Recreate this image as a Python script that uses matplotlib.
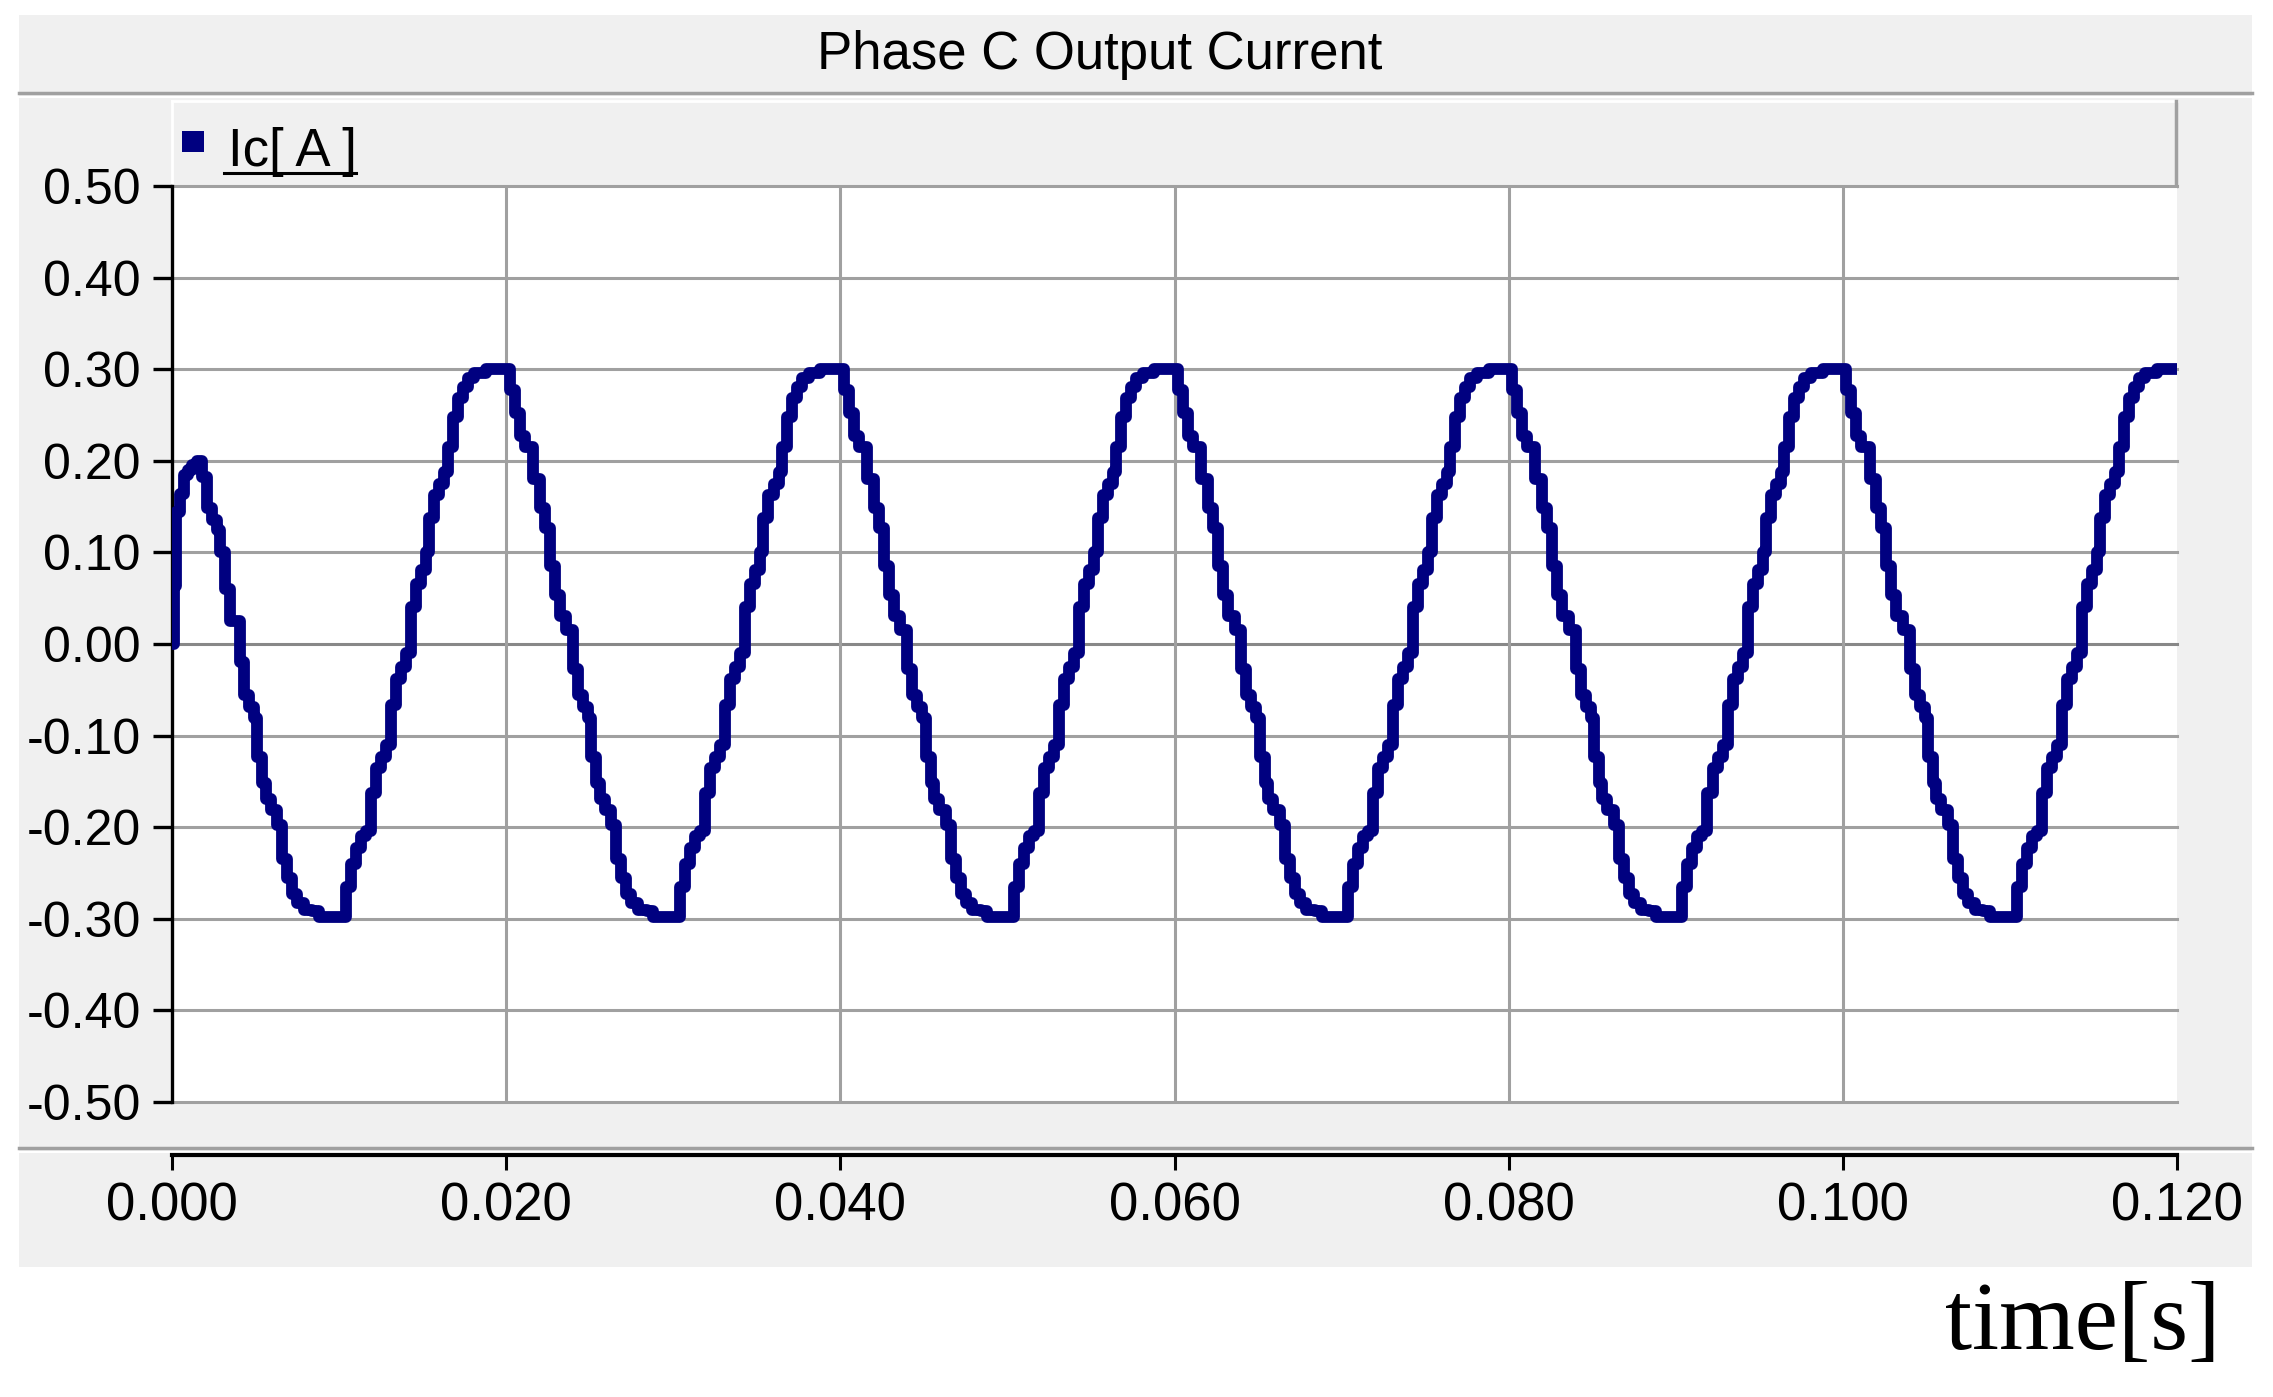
import numpy as np
import matplotlib
matplotlib.use("Agg")
import matplotlib.pyplot as plt
from matplotlib import font_manager
from matplotlib.patches import Rectangle
from matplotlib.lines import Line2D

W, H = 2273, 1397

# start-up transient: edge times [ms] and held current levels [A]
start_ms = [0.0, 0.12, 0.24, 0.48, 0.72, 0.98, 1.2, 1.48, 1.78, 2.08, 2.37, 2.67, 2.87, 3.17, 3.47, 4.07]
start_lv = [0.0, 0.063, 0.144, 0.164, 0.184, 0.19, 0.195, 0.20, 0.182, 0.149, 0.135, 0.124, 0.10, 0.06, 0.025, -0.02]

# one steady-state period, edge times [ms] after the cycle start
cycle_ms = [0.0, 0.3, 0.6, 0.9, 1.4, 1.8, 2.1, 2.4, 2.7, 3.0, 3.4, 3.8, 4.1, 4.4, 4.7,
            4.9, 5.2, 5.4, 5.7, 6.1, 6.4, 6.7, 7.0, 7.3, 7.7, 8.2, 8.6, 10.2, 10.5, 10.8,
            11.1, 11.4, 11.7, 12.0, 12.3, 12.6, 12.9, 13.2, 13.5, 13.8, 14.1, 14.4, 14.7, 15.0, 15.2,
            15.5, 15.8, 16.1, 16.3, 16.6, 16.9, 17.2, 17.5, 17.9, 18.6]
cycle_lv = [0.277, 0.252, 0.227, 0.215, 0.18, 0.148, 0.127, 0.085, 0.054, 0.031, 0.015, -0.027, -0.056, -0.069, -0.081,
            -0.123, -0.152, -0.169, -0.181, -0.198, -0.235, -0.256, -0.273, -0.283, -0.29, -0.292, -0.298, -0.265, -0.24, -0.223,
            -0.21, -0.204, -0.163, -0.135, -0.123, -0.11, -0.067, -0.038, -0.025, -0.01, 0.04, 0.065, 0.081, 0.1, 0.138,
            0.163, 0.175, 0.188, 0.215, 0.248, 0.269, 0.281, 0.29, 0.296, 0.30]
cycle_starts = [0.2, 20.2, 40.2, 60.2, 80.2, 100.2]
t_end_ms = 120.0

x_ticks = [0.0, 0.02, 0.04, 0.06, 0.08, 0.10, 0.12]
y_ticks = [-0.5, -0.4, -0.3, -0.2, -0.1, 0.0, 0.1, 0.2, 0.3, 0.4, 0.5]

title = "Phase C Output Current"
series_name = "Ic[ A ]"
x_label = "time[s]"

# build the held-step series
t_ms = list(start_ms)
val = list(start_lv)
for c in cycle_starts:
    for ms, lv in zip(cycle_ms, cycle_lv):
        if c + ms > t_ms[-1]:
            t_ms.append(c + ms)
            val.append(lv)
t_ms.append(t_end_ms)
val.append(val[-1])
t = np.array(t_ms) / 1000.0

names = {f.name for f in font_manager.fontManager.ttflist}
narrow = "Liberation Sans Narrow" in names
SANS = "Liberation Sans Narrow" if narrow else "Liberation Sans"
FS = 40 if narrow else 38
FS_Y = 40 if narrow else 36

plt.rcParams["axes.unicode_minus"] = False
plt.rcParams["font.family"] = SANS

NAVY = "#000080"
PANEL = "#f0f0f0"
GRID = "#a0a0a0"


def fx(x):
    return x / W


def fy(y):
    return 1 - y / H


fig = plt.figure(figsize=(W / 100, H / 100), dpi=100)
fig.patch.set_facecolor("white")

# grey window panel and separators
fig.add_artist(Rectangle((fx(19), fy(1267)), fx(2252) - fx(19), fy(15) - fy(1267),
                         transform=fig.transFigure, facecolor=PANEL, edgecolor="none", zorder=-10))
for yy in (93, 1148):
    fig.add_artist(Line2D([fx(19), fx(2252)], [fy(yy), fy(yy)], transform=fig.transFigure,
                          color=GRID, lw=2.5, zorder=-5))
    fig.add_artist(Line2D([fx(19), fx(2252)], [fy(yy + 4), fy(yy + 4)], transform=fig.transFigure,
                          color="white", lw=1.5, zorder=-5))

# legend strip
fig.add_artist(Line2D([fx(172), fx(2177)], [fy(101), fy(101)], transform=fig.transFigure,
                      color="white", lw=2, zorder=-4))
fig.add_artist(Line2D([fx(172), fx(172)], [fy(101), fy(186)], transform=fig.transFigure,
                      color="white", lw=2, zorder=-4))
fig.add_artist(Line2D([fx(2176), fx(2176)], [fy(101), fy(186)], transform=fig.transFigure,
                      color=GRID, lw=2.5, zorder=-4))
fig.add_artist(Rectangle((fx(182), fy(152)), fx(22), 21 / H, transform=fig.transFigure,
                         facecolor=NAVY, edgecolor="none"))
fig.text(fx(228), fy(166), series_name, fontsize=FS, va="baseline", ha="left")
fig.add_artist(Line2D([fx(224), fx(356)], [fy(173), fy(173)], transform=fig.transFigure,
                      color="black", lw=2.2))

fig.text(fx(1100), fy(55), title, fontsize=FS, ha="center", va="center")
fig.text(fx(2220), fy(1326), x_label, fontsize=70, ha="right", va="center",
         family="Liberation Serif")

ax = fig.add_axes([fx(172), fy(1102), fx(2177) - fx(172), fy(186) - fy(1102)])
ax.set_facecolor("white")
ax.set_xlim(x_ticks[0], x_ticks[-1])
ax.set_ylim(y_ticks[0], y_ticks[-1])

for yv in y_ticks:
    ax.axhline(yv, color="#888888" if yv == 0.0 else GRID, lw=2.2, zorder=1, clip_on=False)
for xv in x_ticks[1:-1]:
    ax.axvline(xv, color=GRID, lw=2.2, zorder=1)

ax.step(t, val, where="post", color=NAVY, lw=8.5, zorder=3,
        solid_capstyle="round", solid_joinstyle="round")

for s in ("top", "right"):
    ax.spines[s].set_visible(False)
ax.spines["left"].set_color("black")
ax.spines["left"].set_linewidth(2.4)
ax.spines["left"].set_zorder(2)
ax.spines["bottom"].set_position(("outward", 38))
ax.spines["bottom"].set_color("black")
ax.spines["bottom"].set_linewidth(3)

ax.set_xticks(x_ticks)
ax.set_xticklabels([f"{v:.3f}" for v in x_ticks])
ax.set_yticks(y_ticks)
ax.set_yticklabels([f"{v:.2f}" for v in y_ticks])
ax.tick_params(axis="y", direction="out", length=13.5, width=2.4, pad=9, labelsize=FS_Y)
ax.tick_params(axis="x", direction="out", length=11, width=2.2, pad=8, labelsize=FS)

fig.savefig("out.png", dpi=100)
